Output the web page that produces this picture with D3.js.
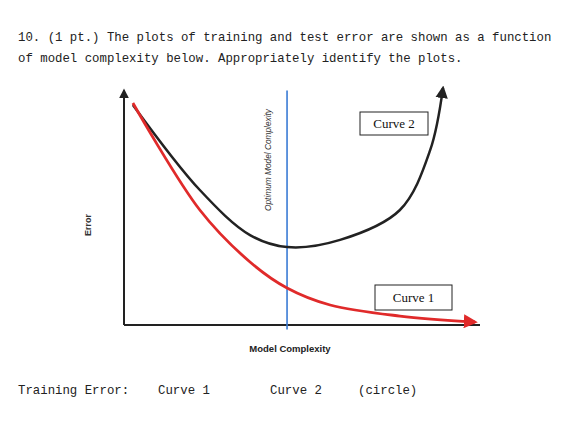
<!DOCTYPE html><html><head><meta charset="utf-8">
<script src="https://cdn.jsdelivr.net/npm/d3@7"></script>
<style>body{margin:0;background:#fff}</style></head><body>
<svg id="c" width="581" height="433"></svg>
<script>
const complexity2 = [0.25,2.13,3.54,4.58,6.07,7.75,8.6,8.96];
const curve2Err   = [9.57,5.87,3.91,3.39,3.70,5.0,7.6,10.3];
const complexity1 = [0.25,2.13,3.54,4.58,5.79,7.75,9.86];
const curve1Err   = [9.65,5.0,2.74,1.61,0.87,0.39,0.13];
const optimum = 4.58;
const svg = d3.select("#c");
const x = d3.scaleLinear().domain([0,10]).range([124,480]);
const y = d3.scaleLinear().domain([0,10]).range([325,95]);
const defs = svg.append("defs");
[["ak","#222"],["ar","#e02a2a"]].forEach(([id,c])=>{
 defs.append("marker").attr("id",id).attr("viewBox","0 0 10 10").attr("refX",8).attr("refY",5)
 .attr("markerWidth",5).attr("markerHeight",5).attr("orient","auto")
 .append("path").attr("d","M0,0L10,5L0,10z").attr("fill",c);});
const mono = "'Liberation Mono','DejaVu Sans Mono',monospace";
const t = (s,xx,yy)=>svg.append("text").attr("x",xx).attr("y",yy).attr("font-family",mono).attr("font-size",12.35).attr("fill","#222").text(s);
t("10. (1 pt.) The plots of training and test error are shown as a function",18,41);
t("of model complexity below. Appropriately identify the plots.",18,62);
t("Training Error:",18,394); t("Curve 1",158,394); t("Curve 2",270,394); t("(circle)",358,394);
svg.append("line").attr("x1",x(0)).attr("y1",y(0)).attr("x2",x(0)).attr("y2",y(10.2)).attr("stroke","#222").attr("stroke-width",2).attr("marker-end","url(#ak)");
svg.append("line").attr("x1",x(0)).attr("y1",y(0)).attr("x2",x(10)).attr("y2",y(0)).attr("stroke","#222").attr("stroke-width",2);
svg.append("line").attr("x1",x(optimum)).attr("y1",y(10.2)).attr("x2",x(optimum)).attr("y2",y(-0.2)).attr("stroke","#3a7bd5").attr("stroke-width",1.6);
const line = d3.line().x(d=>x(d[0])).y(d=>y(d[1])).curve(d3.curveCatmullRom.alpha(0.5));
svg.append("path").attr("d",line(complexity2.map((c,i)=>[c,curve2Err[i]]))).attr("fill","none").attr("stroke","#222").attr("stroke-width",2.5).attr("marker-end","url(#ak)");
svg.append("path").attr("d",line(complexity1.map((c,i)=>[c,curve1Err[i]]))).attr("fill","none").attr("stroke","#e02a2a").attr("stroke-width",2.8).attr("marker-end","url(#ar)");
const sans="Arial,'Liberation Sans',sans-serif";
svg.append("text").attr("transform","translate(91,225) rotate(-90)").attr("text-anchor","middle").attr("font-family",sans).attr("font-weight","bold").attr("font-size",9).attr("fill","#333").text("Error");
svg.append("text").attr("x",290).attr("y",352).attr("text-anchor","middle").attr("font-family",sans).attr("font-weight","bold").attr("font-size",9.5).attr("fill","#222").text("Model Complexity");
svg.append("text").attr("transform","translate(271,160) rotate(-90)").attr("text-anchor","middle").attr("font-family",sans).attr("font-style","italic").attr("font-size",8.3).attr("fill","#333").text("Optimum Model Complexity");
const box=(s,x0,y0,w,h)=>{svg.append("rect").attr("x",x0).attr("y",y0).attr("width",w).attr("height",h).attr("fill","#fff").attr("stroke","#222");
 svg.append("text").attr("x",x0+w/2).attr("y",y0+h/2+4.5).attr("text-anchor","middle").attr("font-family","'Liberation Serif',serif").attr("font-size",13).attr("fill","#111").text(s);};
box("Curve 2",360,112,68,23); box("Curve 1",375,285,77,25);
</script></body></html>
